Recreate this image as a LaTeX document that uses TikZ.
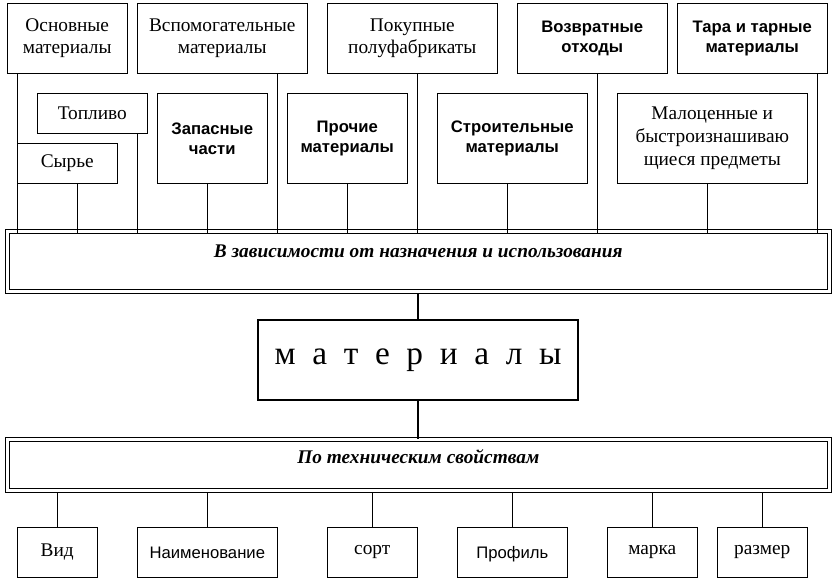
\documentclass[tikz,border=0pt]{standalone}
\usepackage{fontspec}
\setmainfont{Liberation Serif}
\newfontfamily\arialfont{Liberation Sans}
\begin{document}
\begin{tikzpicture}[
 x=0.75pt,y=-0.75pt,
 thin,
 align=center,
 inner sep=0pt,
 box/.style={draw=black,rectangle,font=\fontsize{14.5}{17}\selectfont},
 boldbox/.style={draw=black,rectangle,font=\arialfont\bfseries\fontsize{12.5}{15}\selectfont},
 link/.style={draw=black}
]
\useasboundingbox (0,0) rectangle (832,585);
% upper row
\node (osn) [box,minimum width=90pt,minimum height=52.5pt,anchor=north west] at (7,3) {Основные\\материалы};
\node (vsp) [box,minimum width=127.5pt,minimum height=52.5pt,anchor=north west] at (137,3) {Вспомогательные\\материалы};
\node (pok) [box,minimum width=127.5pt,minimum height=52.5pt,anchor=north west] at (327,3) {Покупные\\полуфабрикаты};
\node (voz) [boldbox,minimum width=112.5pt,minimum height=52.5pt,anchor=north west] at (517,3) {Возвратные\\отходы};
\node (tara) [boldbox,minimum width=112.5pt,minimum height=52.5pt,anchor=north west] at (677,3) {Тара и тарные\\материалы};
% lower row
\node (topl) [box,minimum width=82.5pt,minimum height=30pt,anchor=north west] at (37,93) {Топливо};
\node (syr) [box,minimum width=75pt,minimum height=30pt,anchor=north west] at (17,143) {Сырье};
\node (zap) [boldbox,minimum width=82.5pt,minimum height=67.5pt,anchor=north west] at (157,93) {Запасные\\части};
\node (pro) [boldbox,minimum width=90pt,minimum height=67.5pt,anchor=north west] at (287,93) {Прочие\\материалы};
\node (str) [boldbox,minimum width=112.5pt,minimum height=67.5pt,anchor=north west] at (437,93) {Строительные\\материалы};
\node (mal) [box,minimum width=142.5pt,minimum height=67.5pt,anchor=north west] at (617,93) {Малоценные и\\быстроизнашиваю\\щиеся предметы};
% frames
\draw (5,229) rectangle (831,293);
\node (nazn) [draw,minimum width=613.5pt,minimum height=42pt,anchor=north west,font=\bfseries\itshape\fontsize{14.5}{17}\selectfont] at (9,233) {В зависимости от назначения и использования\\[-2pt]};
\node (mat) [draw,line width=1.5pt,minimum width=240pt,minimum height=60pt,anchor=north west,font=\fontsize{25}{28}\selectfont] at (257,319) {м\ \ а\ \ т\ \ е\ \ р\ \ и\ \ а\ \ л\ \ ы};
\draw (5,437) rectangle (831,492);
\node (tech) [draw,minimum width=613.5pt,minimum height=35.25pt,anchor=north west,font=\bfseries\itshape\fontsize{14.5}{17}\selectfont] at (9,441) {По техническим свойствам\\[-4pt]};
% bottom row
\node (vid) [box,minimum width=60pt,minimum height=37.5pt,anchor=north west] at (17,527) {Вид};
\node (naim) [box,minimum width=105pt,minimum height=37.5pt,anchor=north west,font=\arialfont\fontsize{12.5}{14}\selectfont,text depth=-14pt] at (137,527) {Наименование};
\node (sort) [box,minimum width=67.5pt,minimum height=37.5pt,anchor=north west] at (327,527) {сорт};
\node (prof) [box,minimum width=82.5pt,minimum height=37.5pt,anchor=north west,font=\arialfont\fontsize{12.5}{14}\selectfont,text depth=-14pt] at (457,527) {Профиль};
\node (marka) [box,minimum width=67.5pt,minimum height=37.5pt,anchor=north west] at (607,527) {марка};
\node (razm) [box,minimum width=67.5pt,minimum height=37.5pt,anchor=north west] at (717,527) {размер};
% links up
\draw [link] (osn.south west) ++(10,0) -- ++(0,160);
\draw [link] (syr.south) ++(10,0) -- ++(0,50);
\draw [link] (topl.south east) ++(-10,0) -- ++(0,100);
\draw [link] (zap.south) ++(-5,0) -- ++(0,50);
\draw [link] (vsp.south east) ++(-30,0) -- ++(0,160);
\draw [link] (pro.south) -- ++(0,50);
\draw [link] (pok.south) ++(5,0) -- ++(0,160);
\draw [link] (str.south) ++(-5,0) -- ++(0,50);
\draw [link] (voz.south) ++(5,0) -- ++(0,160);
\draw [link] (mal.south) ++(-5,0) -- ++(0,50);
\draw [link] (tara.south) ++(65,0) -- ++(0,160);
% center
\draw [link,line width=1.2pt] (mat.north) -- ++(0,-26);
\draw [link,line width=1.2pt] (mat.south) -- ++(0,38);
% links down
\foreach \n in {vid,naim,sort,prof,marka,razm}
 \draw [link] (\n.north) -- ++(0,-35);
\end{tikzpicture}
\end{document}
